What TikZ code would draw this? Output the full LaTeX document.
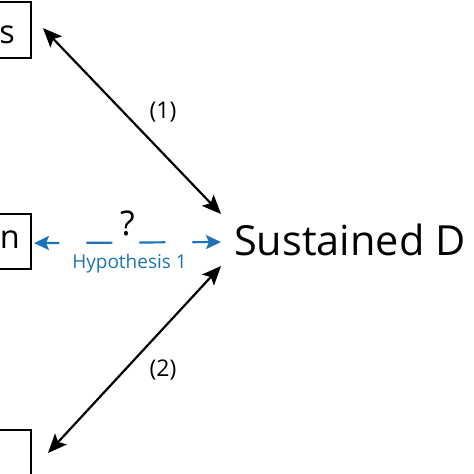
\documentclass[tikz,border=0pt]{standalone}
\usepackage{fontspec}
\setmainfont{Open Sans}
\usetikzlibrary{arrows.meta,calc}
\definecolor{hypblue}{RGB}{30,115,180}
\begin{document}
\begin{tikzpicture}[x=1pt,y=-1pt,
  box/.style={draw, line width=2.2pt, anchor=north east, inner ysep=0pt,
    text width=80pt, align=right, font=\fontsize{32.5}{36}\selectfont},
  conn/.style={line width=2.2pt,
    {Stealth[length=19pt,width=16pt,inset=4pt]}-{Stealth[length=19pt,width=16pt,inset=4pt]}},
  hyp/.style={hypblue, line width=2.2pt, dash pattern=on 26pt off 27pt, dash phase=12pt,
    {Stealth[length=15pt,width=14pt,inset=3pt]}-{Stealth[length=15pt,width=14pt,inset=3pt]}},
  lbl/.style={inner sep=0pt, font=\fontsize{23}{26}\selectfont},
]
\useasboundingbox (0,0) rectangle (474,474);
\node[box, inner xsep=16pt, minimum height=56pt, text height=31pt, text depth=4pt] (top) at (32,1) {s};
\node[box, inner xsep=11pt, minimum height=55pt, text height=18pt, text depth=4pt] (mid) at (32,213) {n};
\node[box, inner xsep=10pt, minimum height=90pt] (bot) at (32,429) {};
\node[anchor=base west, inner sep=0pt, font=\fontsize{41.5}{46}\selectfont] (sust) at (234,255) {Sustained D};
\draw[conn] ($(top.east)+(11,-2)$) -- ($(sust.base west)+(-13,-41)$);
\draw[conn] ($(sust.base west)+(-13,11)$) -- ($(bot.north east)+(16,24)$);
\draw[hyp] ($(mid.east)+(2,1.5)$) -- ($(sust.base west)+(-13,-13)$);
\node[lbl] (l1) at (163,112.5) {(1)};
\node[lbl] (l2) at (163,370) {(2)};
\node[anchor=base, inner sep=0pt, font=\fontsize{34}{36}\selectfont] (q) at (127.5,235) {?};
\node[anchor=base, inner sep=0pt, text=hypblue, font=\fontsize{19}{21}\selectfont] (h1) at (129.5,268) {Hypothesis 1};
\end{tikzpicture}
\end{document}
